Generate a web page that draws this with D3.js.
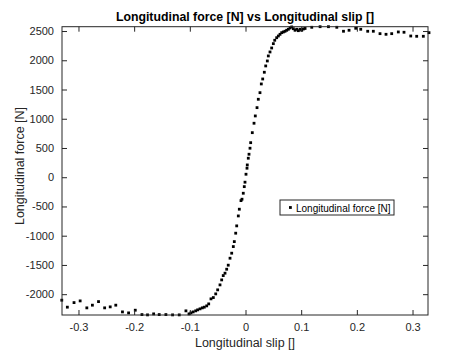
<!DOCTYPE html>
<html><head><meta charset="utf-8">
<script src="https://cdn.jsdelivr.net/npm/d3@7"></script>
<style>body{margin:0;background:#fff;}svg{display:block;font-family:Arial,"Liberation Sans",sans-serif;}</style>
</head><body><svg id="c" width="474" height="355"></svg>
<script>
const slip = [-0.330,-0.320,-0.308,-0.297,-0.285,-0.275,-0.264,-0.253,-0.243,-0.233,-0.221,-0.210,-0.198,-0.186,-0.176,-0.165,-0.155,-0.143,-0.131,-0.119,-0.107,
-0.1015,-0.098,-0.094,-0.0895,-0.086,-0.0817,-0.0776,-0.074,-0.0697,-0.0661,-0.062,-0.0578,-0.0535,-0.050,-0.0458,-0.0428,-0.040,-0.0368,-0.0338,-0.031,-0.0278,-0.0248,-0.0219,-0.0201,-0.0176,-0.0158,-0.0129,-0.0111,-0.0081,
-0.0063,-0.004,-0.0022,-0.0009,0.0009,0.0027,0.0032,0.005,0.0063,0.0081,0.0093,0.0122,0.0153,0.0176,0.0207,0.023,0.026,0.0284,0.0309,0.0338,0.0363,0.0392,
0.041,0.044,0.047,0.050,0.0525,0.056,0.059,0.062,0.065,0.068,0.071,0.074,0.077,0.080,0.083,0.086,0.089,0.092,0.095,0.098,0.101,0.104,0.107,0.119,0.134,0.149,0.164,0.176,0.186,0.198,0.207,0.2195,0.2296,0.2416,0.2524,0.2626,0.2745,0.2847,0.2968,0.3075,0.3194,0.3296];
const force = [-2103,-2222,-2144,-2115,-2234,-2188,-2127,-2234,-2217,-2188,-2303,-2320,-2274,-2349,-2354,-2337,-2349,-2349,-2354,-2354,-2285,
-2337,-2320,-2303,-2285,-2268,-2251,-2234,-2222,-2200,-2166,-2080,-2058,-1995,-1926,-1841,-1756,-1682,-1641,-1573,-1504,-1385,-1299,-1186,-1101,-957,-832,-662,-547,-400,
-376,-274,-161,-85,51,154,210,325,393,496,591,762,923,1048,1190,1333,1446,1595,1680,1795,1903,1988,
2074,2142,2210,2284,2342,2386,2415,2444,2472,2484,2496,2513,2530,2552,2570,2540,2513,2530,2506,2530,2513,2535,2544,2564,2574,2574,2564,2496,2513,2547,2530,2496,2496,2455,2444,2455,2484,2479,2415,2410,2410,2472];
const xTicks = [-0.3,-0.2,-0.1,0,0.1,0.2,0.3];
const yTicks = [-2000,-1500,-1000,-500,0,500,1000,1500,2000,2500];
const xDomain = [-0.3296, 0.3278];
const yDomain = [-2356, 2574];

const svg = d3.select("#c");
const L=62, R=428, T=26.7, B=315;
const x = d3.scaleLinear().domain(xDomain).range([L,R]);
const y = d3.scaleLinear().domain(yDomain).range([B,T]);
const ink="#262626";

// data
svg.append("g").selectAll("rect").data(slip.map((s,i)=>[s,force[i]])).join("rect")
  .attr("x",d=>x(d[0])-1.4).attr("y",d=>y(d[1])-1.4).attr("width",2.8).attr("height",2.8).attr("fill","#000");

// axes
const fmt = d=> d===0?"0":String(d);
const ax = svg.append("g").attr("transform",`translate(0,${B})`).call(d3.axisBottom(x).tickValues(xTicks).tickSizeInner(-5).tickSizeOuter(0).tickPadding(8).tickFormat(fmt));
const axT = svg.append("g").attr("transform",`translate(0,${T})`).call(d3.axisTop(x).tickValues(xTicks).tickSizeInner(-5).tickSizeOuter(0).tickFormat(""));
const ay = svg.append("g").attr("transform",`translate(${L},0)`).call(d3.axisLeft(y).tickValues(yTicks).tickSizeInner(-5).tickSizeOuter(0).tickPadding(8).tickFormat(fmt));
const ayR = svg.append("g").attr("transform",`translate(${R},0)`).call(d3.axisRight(y).tickValues(yTicks).tickSizeInner(-5).tickSizeOuter(0).tickFormat(""));
[ax,axT,ay,ayR].forEach(g=>{
  g.select(".domain").remove();
  g.selectAll("line").attr("stroke",ink);
  g.selectAll("text").attr("fill",ink).style("font-size","11px").style("font-family","Arial, 'Liberation Sans', sans-serif");
});
svg.append("rect").attr("x",L).attr("y",T).attr("width",R-L).attr("height",B-T).attr("fill","none").attr("stroke",ink).attr("stroke-width",1);

// title and labels
svg.append("text").attr("x",(L+R)/2).attr("y",21).attr("text-anchor","middle").attr("fill","#000")
  .style("font-size","12.3px").style("font-weight","bold").text("Longitudinal force [N] vs Longitudinal slip []");
svg.append("text").attr("x",(L+R)/2).attr("y",347).attr("text-anchor","middle").attr("fill",ink)
  .style("font-size","12.5px").text("Longitudinal slip []");
svg.append("text").attr("transform",`translate(20,166) rotate(-90)`).attr("text-anchor","middle").attr("dy","0.35em").attr("fill",ink)
  .style("font-size","12.5px").text("Longitudinal force [N]");

// legend
const lg = svg.append("g").attr("transform","translate(280,200)");
lg.append("rect").attr("width",114).attr("height",15).attr("fill","#fff").attr("stroke",ink).attr("stroke-width",1);
lg.append("rect").attr("x",9).attr("y",6.1).attr("width",2.8).attr("height",2.8).attr("fill","#000");
lg.append("text").attr("x",16).attr("y",11.5).attr("fill","#000").style("font-size","10px").text("Longitudinal force [N]");
</script></body></html>
